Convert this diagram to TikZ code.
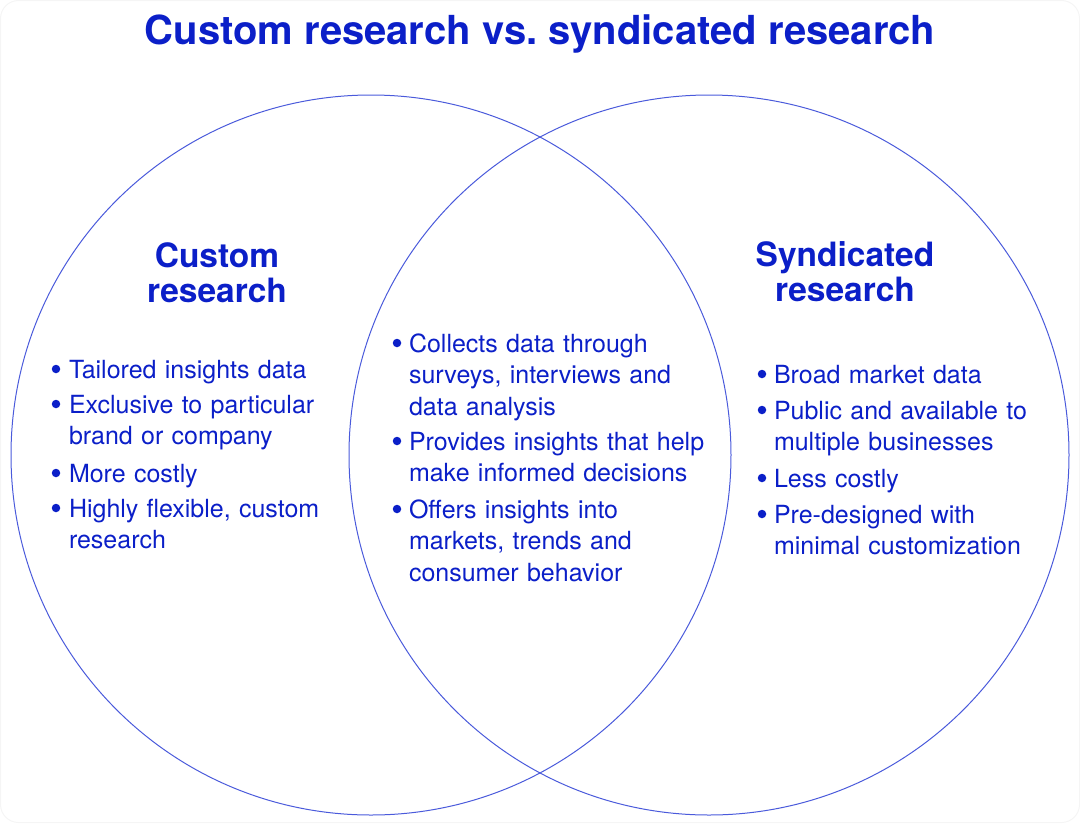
\documentclass[tikz,border=0pt]{standalone}
\usepackage{fontspec}
\setmainfont{TeX Gyre Heros}
\frenchspacing
\definecolor{ink}{HTML}{0B1FC8}
\definecolor{ring}{HTML}{4A5ADB}
\begin{document}
\begin{tikzpicture}[x=1pt,y=-1pt,
  every node/.style={inner sep=0pt, outer sep=0pt, text=ink},
  ttl/.style={font=\fontsize{40}{44}\bfseries\selectfont, anchor=base},
  head/.style={font=\fontsize{33.5}{35.5}\bfseries\selectfont, anchor=base, align=center, text width=300pt},
  item/.style={font=\fontsize{25}{31.7}\selectfont, anchor=base west, align=left, text width=330pt},
  bul/.style={circle, fill=ink, minimum size=8.5pt, inner sep=0pt},
  ringline/.style={draw=ring, line width=1pt}]
\useasboundingbox (0,0) rectangle (1080,823);
\draw[black!4, line width=1pt, rounded corners=18pt] (0.5,0.5) rectangle (1079.5,822.5);
% circles
\node[ringline, circle, minimum size=720pt] (L) at (371,455) {};
\node[ringline, circle, minimum size=720pt] (R) at (709,455) {};
% title
\node[ttl] (title) at (540,44) {Custom research vs. syndicated research};
% headings
\node[head] (hL) at (217,267) {Custom\\research};
\node[head] (hR) at (845,266) {Syndicated\\research};
% left list
\node[bul] (lb1) at (56,369) {};
\node[item] (l1) at (69,378) {Tailored insights data};
\node[bul] (lb2) at (56,404) {};
\node[item] (l2) at (69,413) {Exclusive to particular\\brand or company};
\node[bul] (lb3) at (56,473) {};
\node[item] (l3) at (69,482) {More costly};
\node[bul] (lb4) at (56,508) {};
\node[item] (l4) at (69,517) {Highly flexible, custom\\research};
% middle list
\node[bul] (mb1) at (397,343) {};
\node[item] (m1) at (409,352) {Collects data through\\surveys, interviews and\\data analysis};
\node[bul] (mb2) at (397,441) {};
\node[item] (m2) at (409,450) {Provides insights that help\\make informed decisions};
\node[bul] (mb3) at (397,509) {};
\node[item] (m3) at (409,518) {Offers insights into\\markets, trends and\\consumer behavior};
% right list
\node[bul] (rb1) at (762,374) {};
\node[item] (r1) at (774,383) {Broad market data};
\node[bul] (rb2) at (762,410) {};
\node[item] (r2) at (774,419) {Public and available to\\multiple businesses};
\node[bul] (rb3) at (762,478) {};
\node[item] (r3) at (774,487) {Less costly};
\node[bul] (rb4) at (762,514) {};
\node[item] (r4) at (774,523) {Pre-designed with\\minimal customization};
\end{tikzpicture}
\end{document}
